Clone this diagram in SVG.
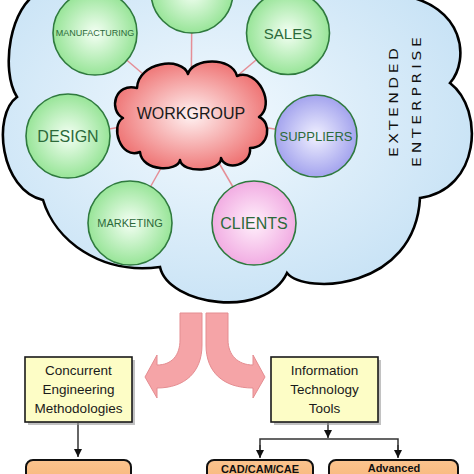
<svg xmlns="http://www.w3.org/2000/svg" width="474" height="474" viewBox="0 0 474 474">
<defs>
  <radialGradient id="gSky" cx="45%" cy="45%" r="60%">
    <stop offset="0" stop-color="#f2f9fe"/>
    <stop offset="1" stop-color="#c7e2f5"/>
  </radialGradient>
  <radialGradient id="gGreen" cx="50%" cy="50%" r="55%">
    <stop offset="0" stop-color="#f4fff4"/>
    <stop offset="1" stop-color="#8fe28f"/>
  </radialGradient>
  <radialGradient id="gBlue" cx="50%" cy="50%" r="55%">
    <stop offset="0" stop-color="#f0f0ff"/>
    <stop offset="1" stop-color="#9c9cec"/>
  </radialGradient>
  <radialGradient id="gPink" cx="50%" cy="50%" r="55%">
    <stop offset="0" stop-color="#fff0fb"/>
    <stop offset="1" stop-color="#f0a6e0"/>
  </radialGradient>
  <radialGradient id="gRed" cx="50%" cy="50%" r="55%">
    <stop offset="0" stop-color="#fff2f2"/>
    <stop offset="1" stop-color="#ee6f6f"/>
  </radialGradient>
  <linearGradient id="gOrange" x1="0" y1="0" x2="0" y2="1">
    <stop offset="0" stop-color="#fbc48e"/>
    <stop offset="1" stop-color="#f6ad6c"/>
  </linearGradient>
  <marker id="ah" viewBox="0 0 10 10" refX="10" refY="5" markerWidth="8" markerHeight="8" markerUnits="userSpaceOnUse" orient="auto">
    <path d="M0,0 L10,5 L0,10 Z" fill="#111"/>
  </marker>
  <style>
    .circ { stroke: #2f7a3e; stroke-width: 1.6; }
    .ctxt { font-family: "Liberation Sans", Arial, sans-serif; fill: #2c6a3a; text-anchor: middle; }
    .link { stroke: #e58e96; stroke-width: 1.5; }
    .flow { stroke: #333; stroke-width: 1.5; fill: none; }
    .ybox { fill: #fdfdc6; stroke: #1a1a1a; stroke-width: 1.6; }
    .shadow { fill: #9a9a9a; opacity: 0.6; }
    .btxt { font-family: "Liberation Sans", Arial, sans-serif; font-size: 13.5px; fill: #1a1a1a; text-anchor: middle; }
    .obox { fill: url(#gOrange); stroke: #111; stroke-width: 2; }
    .bigarrow { fill: #f5a4a7; stroke: #e48d91; stroke-width: 1; }
    .ee { font-family: "DejaVu Sans", "Liberation Sans", sans-serif; font-size: 13px; fill: #111; text-anchor: middle; }
  </style>
</defs>

<rect width="474" height="474" fill="#ffffff"/>

<g id="extended-enterprise">
  <path d="M40,-8 C10,5 0,70 17,97 C-8,115 0,190 43,200 C55,240 100,275 160,267 C168,305 265,320 287,273 C305,295 415,290 420,198 C480,190 485,110 450,83 C470,60 465,5 400,-5 L400,-30 L40,-30 Z" fill="url(#gSky)" stroke="#000" stroke-width="2.6" stroke-linejoin="miter"/>
  <text class="ee" transform="translate(397.5,102.5) rotate(-90) scale(1.2,1)" textLength="90.8" lengthAdjust="spacing">EXTENDED</text>
  <text class="ee" transform="translate(420.5,102) rotate(-90) scale(1.2,1)" textLength="108.3" lengthAdjust="spacing">ENTERPRISE</text>
</g>

<g id="connectors">
  <line class="link" x1="191" y1="115" x2="95" y2="33"/>
  <line class="link" x1="191" y1="115" x2="192" y2="-8"/>
  <line class="link" x1="191" y1="115" x2="288" y2="33"/>
  <line class="link" x1="191" y1="115" x2="68" y2="136"/>
  <line class="link" x1="191" y1="115" x2="316" y2="136"/>
  <line class="link" x1="191" y1="115" x2="130" y2="223"/>
  <line class="link" x1="191" y1="115" x2="254" y2="223"/>
  <path class="bigarrow" d="M180,313 L202,313 L202,345 C202,372 185,388 157,388 L157,398 L145,377 L157,355 L157,365 C172,365 180,355 180,340 Z"/>
  <path class="bigarrow" d="M228,313 L206,313 L206,345 C206,372 223,388 253,388 L253,398 L265,377 L253,355 L253,365 C238,365 228,355 228,340 Z"/>
  <line class="flow" x1="78" y1="423" x2="78" y2="457" marker-end="url(#ah)"/>
  <line class="flow" x1="328" y1="423" x2="328" y2="438" marker-end="url(#ah)"/>
  <polyline class="flow" points="260,457 260,439 398,439 398,457"/>
  <line class="flow" x1="260" y1="445" x2="260" y2="458" marker-end="url(#ah)"/>
  <line class="flow" x1="398" y1="445" x2="398" y2="458" marker-end="url(#ah)"/>
</g>

<g id="top-circle">
  <circle class="circ" cx="192" cy="-8" r="41" fill="url(#gGreen)"/>
</g>
<g id="manufacturing">
  <circle class="circ" cx="95" cy="33" r="42" fill="url(#gGreen)"/>
  <text class="ctxt" x="95" y="36.2" font-size="9">MANUFACTURING</text>
</g>
<g id="sales">
  <circle class="circ" cx="288" cy="33" r="41.5" fill="url(#gGreen)"/>
  <text class="ctxt" x="288" y="38.5" font-size="15">SALES</text>
</g>
<g id="design">
  <circle class="circ" cx="68" cy="136" r="42" fill="url(#gGreen)"/>
  <text class="ctxt" x="68" y="141.8" font-size="16">DESIGN</text>
</g>
<g id="suppliers">
  <circle class="circ" cx="316" cy="136" r="41" fill="url(#gBlue)"/>
  <text class="ctxt" x="316" y="140.8" font-size="13" fill="#2c5e55">SUPPLIERS</text>
</g>
<g id="marketing">
  <circle class="circ" cx="130" cy="223" r="42" fill="url(#gGreen)"/>
  <text class="ctxt" x="130" y="226.8" font-size="11">MARKETING</text>
</g>
<g id="clients">
  <circle class="circ" cx="254" cy="223" r="42" fill="url(#gPink)"/>
  <text class="ctxt" x="254" y="228.6" font-size="16">CLIENTS</text>
</g>

<g id="workgroup">
  <path d="M137,88 C138,62 182,56 188,74 C192,58 232,56 237,76 C258,68 276,105 259,117 C272,122 270,148 250,148 C252,165 226,172 221,158 C222,172 182,174 180,160 C178,172 142,172 140,152 C120,160 110,125 123,118 C108,110 115,82 137,88 Z" fill="url(#gRed)" stroke="#000" stroke-width="2.5" stroke-linejoin="round"/>
  <text x="191" y="119" font-family="Liberation Sans, Arial, sans-serif" font-size="16" fill="#1a1a1a" text-anchor="middle">WORKGROUP</text>
</g>

<g id="concurrent-engineering">
  <rect class="shadow" x="28" y="360" width="107" height="65"/>
  <rect class="ybox" x="25" y="357" width="107" height="65"/>
  <text class="btxt" x="78.5" y="375">Concurrent</text>
  <text class="btxt" x="78.5" y="394">Engineering</text>
  <text class="btxt" x="78.5" y="413">Methodologies</text>
</g>

<g id="information-technology">
  <rect class="shadow" x="274" y="360" width="107" height="65"/>
  <rect class="ybox" x="271" y="357" width="107" height="65"/>
  <text class="btxt" x="324.5" y="375">Information</text>
  <text class="btxt" x="324.5" y="394">Technology</text>
  <text class="btxt" x="324.5" y="413">Tools</text>
</g>

<g id="orange-left">
  <rect class="obox" x="26" y="460" width="105" height="40" rx="7"/>
</g>
<g id="cad-cam-cae">
  <rect class="obox" x="207" y="460" width="106" height="40" rx="7"/>
  <text x="260" y="472.5" font-family="Liberation Sans, Arial, sans-serif" font-size="11" font-weight="bold" fill="#111" text-anchor="middle">CAD/CAM/CAE</text>
</g>
<g id="advanced">
  <rect class="obox" x="329" y="460" width="129" height="40" rx="7"/>
  <text x="394" y="471.5" font-family="Liberation Sans, Arial, sans-serif" font-size="11" font-weight="bold" fill="#111" text-anchor="middle">Advanced</text>
</g>
</svg>
